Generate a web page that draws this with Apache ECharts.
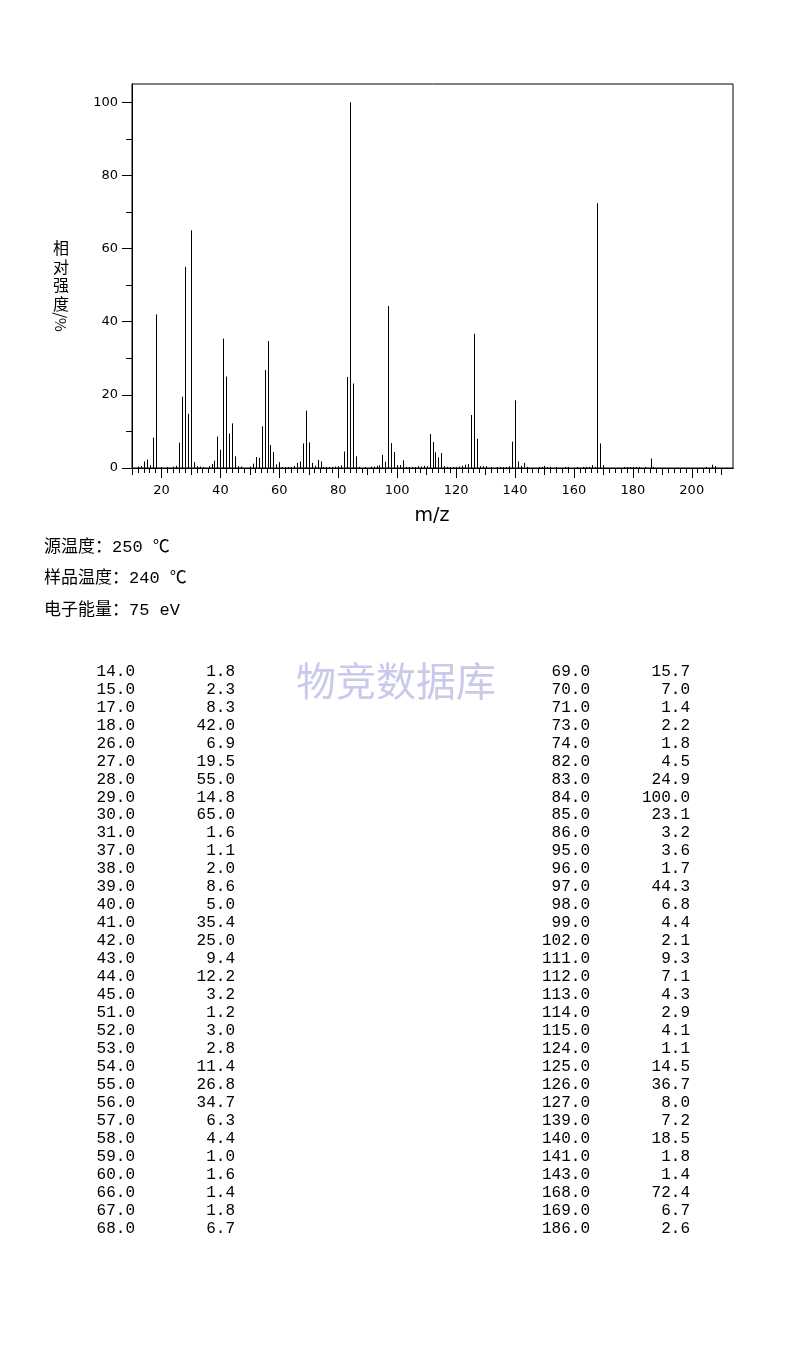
<!DOCTYPE html>
<html>
<head>
<meta charset="utf-8">
<script src="https://cdn.jsdelivr.net/npm/echarts@6/dist/echarts.min.js"></script>
<style>
html,body{margin:0;padding:0;background:#fff;}
#chart{width:794px;height:1361px;}
</style>
</head>
<body>
<div id="chart"></div>
<script>
// ---- Data: peaks listed in the table (m/z, relative intensity %) ----
const mzMajor = [14,15,17,18,26,27,28,29,30,31,37,38,39,40,41,42,43,44,45,51,52,53,54,55,56,57,58,59,60,66,67,68,
                 69,70,71,73,74,82,83,84,85,86,95,96,97,98,99,102,111,112,113,114,115,124,125,126,127,139,140,141,143,168,169,186];
const intMajor = [1.8,2.3,8.3,42.0,6.9,19.5,55.0,14.8,65.0,1.6,1.1,2.0,8.6,5.0,35.4,25.0,9.4,12.2,3.2,1.2,3.0,2.8,11.4,26.8,34.7,6.3,4.4,1.0,1.6,1.4,1.8,6.7,
                  15.7,7.0,1.4,2.2,1.8,4.5,24.9,100.0,23.1,3.2,3.6,1.7,44.3,6.8,4.4,2.1,9.3,7.1,4.3,2.9,4.1,1.1,14.5,36.7,8.0,7.2,18.5,1.8,1.4,72.4,6.7,2.6];
// ---- small peaks (<1 %) visible on the spectrum but not tabulated (estimated) ----
const mzMinor = [12,13,16,20,22,24,25,32,33,34,36,46,47,50,61,62,63,64,65,72,75,76,77,78,79,80,81,87,89,91,92,93,94,
                 100,101,103,104,105,106,107,108,109,110,116,117,118,119,120,121,122,123,128,129,130,132,134,135,136,137,138,
                 142,144,148,149,150,151,152,154,157,158,161,163,164,165,166,167,170,177,178,179,180,181,182,184,187,205,207,208];
const intMinor = [0.4,0.5,0.8,0.3,0.3,0.4,0.6,0.5,0.4,0.3,0.5,0.5,0.4,0.4,0.3,0.3,0.3,0.3,0.6,0.6,0.3,0.3,0.3,0.3,0.4,0.5,0.7,0.3,0.3,0.4,0.4,0.6,0.7,
                  0.8,0.8,0.3,0.3,0.3,0.3,0.5,0.4,0.6,0.5,0.5,0.3,0.3,0.3,0.3,0.4,0.6,0.9,0.5,0.5,0.5,0.3,0.3,0.3,0.3,0.3,0.5,
                  0.6,0.3,0.3,0.3,0.6,0.3,0.3,0.3,0.3,0.3,0.3,0.3,0.3,0.3,0.8,0.3,0.8,0.3,0.3,0.3,0.3,0.3,0.3,0.3,0.3,0.3,0.9,0.5];
// ---- axis tick labels ----
const xLabelValues = [20,40,60,80,100,120,140,160,180,200];
const yLabelValues = [0,20,40,60,80,100];
// ---- texts ----
const yAxisTitleChars = ['相','对','强','度'];
const yAxisTitleUnit = '/%';
const xAxisTitle = 'm/z';
const infoLines = ['源温度：250 ℃','样品温度：240 ℃','电子能量：75 eV'];
const watermark = '物竞数据库';

const X_MIN = 10, X_MAX = 214, Y_MIN = 0, Y_MAX = 105;
const GRID = {left:132, top:84, width:601, height:384};

const peaks = [];
mzMajor.forEach((m,i)=>peaks.push([m,intMajor[i]]));
mzMinor.forEach((m,i)=>peaks.push([m,intMinor[i]]));

const evenTicks=[], oddTens=[], yMinor=[];
for(let v=10; v<=210; v+=2) evenTicks.push(v);
for(let v=10; v<=210; v+=20) oddTens.push(v);
for(let v=10; v<=90; v+=20) yMinor.push(v);

const tickFont = {fontFamily:'DejaVu Sans', fontSize:13, color:'#000'};

function xAx(ticks, len, labels){
  return {
    type:'value', min:X_MIN, max:X_MAX, position:'bottom', offset:0, gridIndex:0,
    axisLine:{show:true, onZero:false, lineStyle:{color:'#000', width:1}},
    axisTick:{show:true, length:len, customValues:ticks, lineStyle:{color:'#000', width:1}},
    axisLabel: labels ? Object.assign({show:true, customValues:labels, margin:16}, tickFont) : {show:false},
    splitLine:{show:false}
  };
}
function yAx(ticks, len, labels){
  return {
    type:'value', min:Y_MIN, max:Y_MAX, position:'left', offset:0, gridIndex:0,
    axisLine:{show:true, onZero:false, lineStyle:{color:'#000', width:1}},
    axisTick:{show:true, length:len, customValues:ticks, lineStyle:{color:'#000', width:1}},
    axisLabel: labels ? Object.assign({show:true, customValues:labels, margin:14}, tickFont) : {show:false},
    splitLine:{show:false}
  };
}

// ---- graphic texts ----
const graphics = [];
const monoFont = "'Liberation Mono', 'Noto Sans CJK SC', monospace";
yAxisTitleChars.forEach((c,i)=>{
  graphics.push({type:'text', x:61, y:248+i*18.5,
    style:{text:c, font:"16px 'Noto Sans CJK SC'", fill:'#000', textAlign:'center', textVerticalAlign:'middle'}});
});
graphics.push({type:'text', x:61, y:322, rotation:-Math.PI/2,
  style:{text:yAxisTitleUnit, font:"15px 'Noto Sans CJK SC'", fill:'#000', textAlign:'center', textVerticalAlign:'middle'}});
graphics.push({type:'text', x:432, y:516,
  style:{text:xAxisTitle, font:"19px 'DejaVu Sans'", fill:'#000', textAlign:'center', textVerticalAlign:'middle'}});
infoLines.forEach((t,i)=>{
  graphics.push({type:'text', x:44, y:547+i*31.5,
    style:{text:t, font:"17px " + monoFont, fill:'#000', textAlign:'left', textVerticalAlign:'middle'}});
});
graphics.push({type:'text', x:396, y:681,
  style:{text:watermark, font:"40px 'Noto Sans CJK SC'", fill:'#c9c9ec', textAlign:'center', textVerticalAlign:'middle'}});
const rowsPerCol = 32;
mzMajor.forEach((m,i)=>{
  const col = Math.floor(i/rowsPerCol), row = i%rowsPerCol;
  const y = 671.5 + row*17.97;
  const xm = col===0 ? 135 : 590;
  const xi = col===0 ? 235 : 690;
  graphics.push({type:'text', x:xm, y:y,
    style:{text:m.toFixed(1), font:"16px 'Liberation Mono'", fill:'#000', textAlign:'right', textVerticalAlign:'middle'}});
  graphics.push({type:'text', x:xi, y:y,
    style:{text:intMajor[i].toFixed(1), font:"16px 'Liberation Mono'", fill:'#000', textAlign:'right', textVerticalAlign:'middle'}});
});

const chart = echarts.init(document.getElementById('chart'), null, {renderer:'canvas'});
chart.setOption({
  animation:false,
  backgroundColor:'#fff',
  grid:{left:GRID.left, top:GRID.top, width:GRID.width, height:GRID.height, show:true, borderColor:'#000', borderWidth:1, backgroundColor:'transparent', containLabel:false},
  xAxis:[ xAx(evenTicks,5,null), xAx(oddTens,7,null), xAx(xLabelValues,10,xLabelValues) ],
  yAxis:[ yAx(yLabelValues,10,yLabelValues), yAx(yMinor,6,null) ],
  series:[{
    type:'custom', xAxisIndex:2, yAxisIndex:0, clip:true,
    data:peaks,
    renderItem:function(params, api){
      const p0 = api.coord([api.value(0), 0]);
      const p1 = api.coord([api.value(0), api.value(1)]);
      const x = Math.round(p0[0]) + 0.5;
      return {type:'line', shape:{x1:x, y1:p0[1], x2:x, y2:p1[1]}, style:{stroke:'#000', lineWidth:1}};
    }
  }],
  graphic: graphics
});
</script>
</body>
</html>
